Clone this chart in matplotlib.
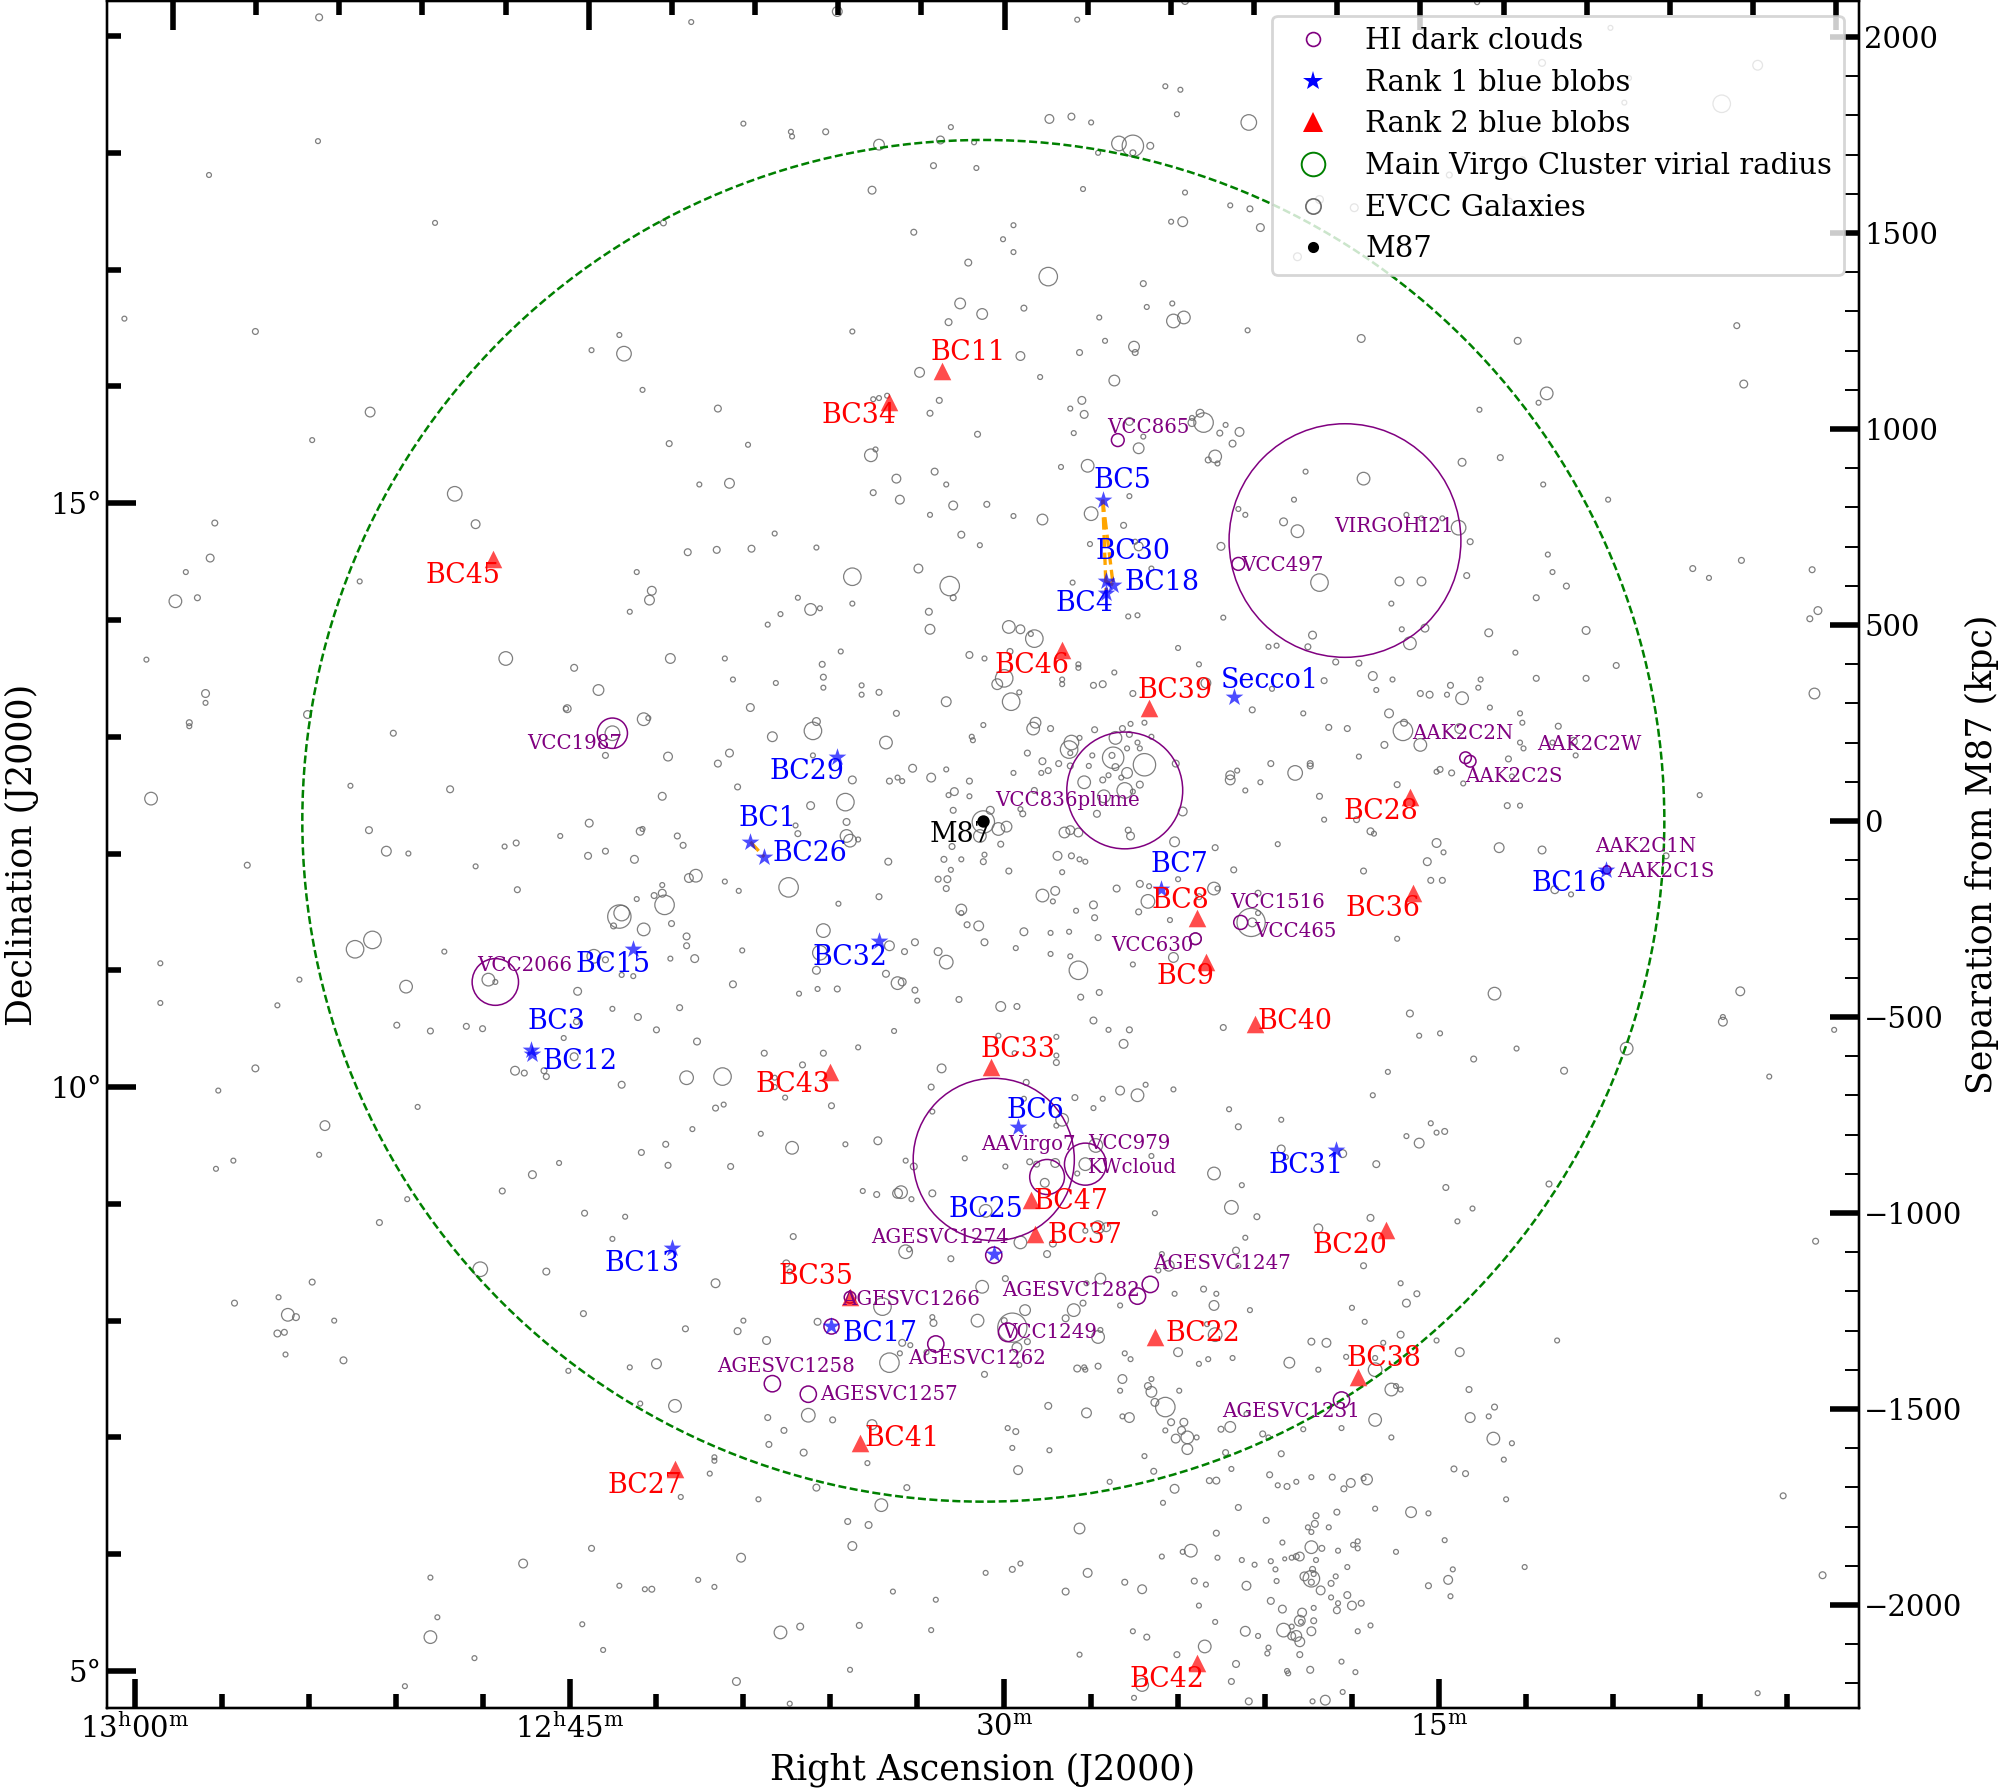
#!/usr/bin/env python3
import numpy as np
import matplotlib
matplotlib.use('Agg')
import matplotlib.pyplot as plt
from matplotlib.lines import Line2D
from matplotlib.patches import Ellipse

plt.rcParams['font.family'] = ['DejaVu Serif']
plt.rcParams['mathtext.fontset'] = 'dejavuserif'
plt.rcParams['mathtext.default'] = 'regular'

#EVCC galaxies by sky region: RA (deg), Dec (deg), apparent size (arcmin)
evcc_nw = [(193.41,19.16,3.5),(190.2,19.12,2.5),(193.42,18.10,2.5),(194.36,17.81,2.5),(192.41,17.40,2.5),(190.44,17.40,3),
    (195.09,16.58,2.5),(193.96,16.47,3),(190.82,16.44,2.5),(191.06,16.31,2.5),(190.78,16.28,7.5),(190.62,15.97,2.5),
    (192.97,15.78,5),(193.47,15.54,2.5),(190.39,15.51,3),(192.24,15.08,7.5),(192.06,14.82,4.5),(190.13,15.16,2.5),
    (194.31,14.83,3),(194.35,14.53,4),(194.56,14.41,2.5),(193.06,14.33,2.5),(190.23,14.58,3.5),(190.67,14.41,2.5),
    (190.54,14.25,4.5),(190.56,14.17,5),(194.65,14.16,6.5),(194.46,14.19,3)]

evcc_n = [(188.94,19.21,5),(186.87,19.14,2.5),(185.94,19.30,3.5),(186.11,18.57,2.5),(185.98,18.54,2.5),(186.01,18.33,2.5),
    (189.75,18.25,2.5),(189.34,18.18,2.5),(189.33,18.14,2.5),(189.04,18.18,3),(187.96,18.22,2.5),(187.11,18.29,4.5),
    (186.92,18.31,3.5),(186.75,18.26,2.5),(185.39,18.26,8),(188.58,18.07,5.5),(188.05,18.11,4),(187.76,18.09,2.5),
    (186.51,18.08,7.5),(186.39,18.06,11),(186.39,18.0,3),(186.24,18.06,3.5),(186.69,18.0,2.5),(188.11,17.89,3),
    (187.74,17.87,2.5),(188.64,17.68,4),(186.82,17.69,2.5),(185.94,17.66,2.5),(185.55,17.55,2.5),(185.38,17.52,3),
    (186.06,17.41,2.5),(185.96,17.41,5),(185.29,17.36,4),(187.42,17.38,2.5),(187.51,17.26,2.5),(187.42,17.15,2.5),
    (188.28,17.32,3),(187.81,17.06,3.5),(187.12,16.94,9.5),(186.3,16.88,3),(186.27,16.68,2.5),(186.05,16.71,2.5),
    (187.88,16.71,5.5),(187.69,16.62,5.5),(187.98,16.55,3.5),(187.33,16.67,3),(186.68,16.59,2.5),(186.04,16.56,7),
    (185.95,16.59,6.5),(185.4,16.48,2.5),(188.81,16.47,2.5),(186.63,16.39,2.5),(186.38,16.34,5.5),(186.37,16.29,3),
    (186.85,16.29,3),(187.36,16.26,4.5),(187.19,16.08,2.5),(186.55,16.05,5.5),(188.23,16.12,5),(188.63,15.89,2.5),
    (188.58,15.90,2.5),(188.51,15.92,2.5),(186.83,15.88,4),(188.06,15.88,3),(188.14,15.77,3),(186.93,15.81,2.5),
    (186.81,15.76,4),(189.97,15.81,3.5),(186.42,15.70,4),(185.88,15.73,2.5),(185.88,15.69,4),(185.81,15.77,4),
    (185.78,15.69,10),(185.59,15.67,2.5),(185.64,15.60,3),(185.47,15.61,4.5),(185.53,15.51,3.5),(186.9,15.60,2.5),
    (186.3,15.57,2.5),(187.73,15.59,3),(189.71,15.50,2.5),(188.61,15.46,2.5),(188.65,15.41,6.5),(186.34,15.47,5.5),
    (185.68,15.40,6.5),(185.74,15.37,3),(185.66,15.34,2.5),(187.01,15.31,2.5),(186.78,15.32,6.5),(188.1,15.27,3.5),
    (188.43,15.21,4.5),(188.0,15.16,2.5),(189.87,15.17,5),(188.63,15.09,3),(188.40,15.03,4.5),(187.94,14.98,4.5),
    (187.65,14.99,3),(186.42,15.06,2.5),(187.42,14.89,2.5),(187.17,14.86,5.5),(186.75,14.91,7),(186.47,14.81,3),
    (188.14,14.90,2.5),(185.48,14.95,2.5),(185.42,14.90,2.5),(185.0,15.03,2.5),(185.09,14.84,4),(184.97,14.76,6.5),
    (187.87,14.73,3.5),(187.71,14.64,2.5),(189.48,14.74,2.5),(189.98,14.60,3.5),(189.68,14.61,3.5),(189.12,14.62,2.5),
    (186.76,14.65,2.5),(186.37,14.67,2.5),(186.34,14.63,4.5),(185.63,14.63,4),(186.23,14.44,2.5),(188.81,14.37,9),
    (188.24,14.44,4.5),(187.97,14.29,10),(189.28,14.19,2.5),(186.91,14.32,2.5),(187.94,14.19,3)]

evcc_ne = [(183.42,19.29,2.5),(182.27,19.07,2.5),(182.86,18.77,3.5),(181.0,18.75,5),(182.11,18.64,2.5),(182.15,18.43,2.5),
    (181.31,18.42,9),(183.66,17.81,3),(183.03,17.94,3),(183.85,17.62,2.5),(184.78,17.60,4),(184.48,17.53,4),
    (183.14,17.59,2.5),(184.97,17.11,4),(184.42,16.41,4),(183.07,16.39,3.5),(181.18,16.52,3),(181.12,16.02,4),
    (182.82,15.94,6.5),(182.89,15.86,2.5),(183.40,15.80,2.5),(183.55,15.35,4),(183.22,15.39,3),(184.90,15.27,2.5),
    (184.40,15.21,6.5),(182.85,15.16,2.5),(182.29,15.03,2.5),(182.81,14.56,2.5),(182.77,14.41,2.5),(182.65,14.29,3),
    (182.91,14.19,3),(181.14,14.51,3),(181.56,14.44,3),(181.42,14.36,2.5),(180.53,14.43,3),(180.48,14.08,4),
    (180.55,14.01,3),(182.48,13.91,4),(183.09,13.72,2.5),(182.91,13.50,3),(182.48,13.50,3),(182.22,13.61,3),
    (180.51,13.37,5.5),(182.72,13.09,3),(183.05,13.20,2.5),(183.03,13.12,2.5),(182.77,12.95,2.5),(182.59,12.96,4),
    (183.05,12.95,2.5),(183.02,12.90,2.5),(182.57,12.84,2.5),(183.15,12.81,3),(183.12,12.66,2.5),(181.5,12.50,2.5),
    (183.05,12.41,2.5),(183.16,12.41,3),(182.86,12.03,4),(181.79,11.98,3),(182.75,11.69,4),(182.61,11.65,2.5),
    (181.15,10.82,4.5),(181.3,10.56,4.5),(181.3,10.6,2.5),(180.34,10.49,2.5),(183.08,10.33,2.5),(182.13,10.33,6.5),
    (182.67,10.14,3.5),(180.9,10.09,2.5),(183.48,14.67,3),(183.51,14.38,3),(183.9,14.33,4.5),(183.58,14.79,7.5),
    (184.03,14.90,2.5),(183.9,14.87,2.5),(183.72,14.87,2.5),(184.09,14.33,4.5),(184.78,14.32,9)]

evcc_w = [(194.90,13.66,2.5),(191.80,13.67,7),(191.21,13.59,3.5),(190.38,13.67,5),(189.91,13.67,2.5),(190.73,14.07,2.5),
    (189.54,13.96,2.5),(189.17,14.09,6),(189.09,14.10,2.5),(189.43,14.05,2.5),(188.81,14.14,2.5),(188.91,13.73,2.5),
    (189.07,13.62,3),(189.06,13.51,3),(189.06,13.42,2.5),(189.84,13.49,2.5),(189.47,13.46,2.5),(188.73,13.44,2.5),
    (188.73,13.36,2.5),(188.58,13.38,3),(194.39,13.37,4),(194.39,13.29,2.5),(191.0,13.40,5.5),(189.69,13.25,4),
    (191.27,13.24,4),(191.28,13.24,2.5),(190.61,13.15,6.5),(190.57,13.16,2.5),(189.12,13.13,4),(189.15,13.05,9),
    (188.43,13.20,3),(193.51,13.19,4),(194.53,13.12,3),(194.53,13.09,2.5),(190.88,13.03,7.5),(192.77,13.03,3),
    (189.50,13.0,5),(188.52,12.95,6.5),(190.94,12.84,3),(190.40,12.83,4.5),(189.87,12.86,4),(189.97,12.77,3.5),
    (189.15,12.84,2.5),(188.81,12.63,4),(188.49,12.62,3),(188.42,12.65,2.5),(193.14,12.58,2.5),(189.80,12.57,3),
    (192.28,12.55,3.5),(190.45,12.49,4),(194.86,12.47,6.5),(189.17,12.41,4),(188.87,12.44,9),(188.86,12.27,3.5),
    (189.3,12.24,2.5),(192.98,12.20,3.5),(191.08,12.26,4),(190.64,12.19,4),(190.62,12.21,2.5),(189.28,12.17,3),
    (191.33,12.15,2.5),(190.32,12.15,3),(190.27,12.07,3),(188.86,12.15,6.5),(188.83,12.11,6.5),(188.76,12.12,2.5),
    (191.71,12.09,3),(191.81,12.06,2.5),(190.94,12.02,3),(192.83,12.02,5),(192.64,12.0,2.5),(191.09,11.98,3.5),
    (190.69,11.95,4),(194.03,11.90,3),(192.06,11.89,2.5),(188.5,11.93,3.5),(190.16,11.81,6.5),(190.22,11.79,4.5),
    (189.91,11.76,2.5),(190.45,11.73,2.5),(189.36,11.71,10),(189.79,11.68,2.5),(191.70,11.69,3),(190.45,11.66,4),
    (190.52,11.64,3),(190.67,11.61,2.5),(188.58,11.63,3),(188.93,11.57,2.5),(190.43,11.56,10),(190.82,11.46,12),
    (190.80,11.49,8),(190.61,11.35,6.5),(190.87,11.38,3),(190.37,11.40,3),(190.24,11.29,3.5),(190.24,11.21,3),
    (189.06,11.34,7),(192.95,11.26,9),(193.10,11.18,9),(188.49,11.21,5),(189.09,11.15,7.5),(192.33,11.16,2.5),
    (194.78,11.06,2.5),(189.76,11.17,2.5),(191.04,11.12,7),(190.38,11.10,2.5),(190.17,11.10,4),(190.94,11.09,3),
    (189.12,11.0,4),(193.58,10.92,2.5),(192.66,10.86,6.5),(191.95,10.92,6.5),(191.89,10.90,2.5),(190.80,10.96,2.5),
    (190.70,10.95,2.5),(189.84,10.88,3.5),(188.52,10.97,3.5),(188.42,10.89,6.5),(191.18,10.82,4),(189.27,10.80,2.5),
    (189.11,10.84,2.5),(188.94,10.84,3),(194.78,10.72,2.5),(193.77,10.70,2.5),(190.30,10.68,3),(190.88,10.67,2.5),
    (190.66,10.60,3.5),(191.19,10.56,3),(192.74,10.53,3),(192.45,10.48,3),(192.14,10.52,3),(192.0,10.50,3),
    (190.50,10.49,3),(188.45,10.48,2.5),(191.30,10.42,2.5),(190.15,10.39,3.5),(189.57,10.29,3),(189.06,10.29,3),
    (188.76,10.34,2.5),(189.24,10.19,3),(191.21,10.26,4),(190.24,10.08,7),(189.93,10.09,9),(191.72,10.14,4.5),
    (191.64,10.12,3),(191.47,10.14,3),(191.45,10.09,3),(193.96,10.16,3.5),(194.28,9.97,2.5),(190.80,10.02,3.5),
    (189.48,10.08,2.5),(189.48,10.0,2.5),(189.39,9.91,2.5)]

evcc_center = [(188.15,14.07,3.5),(188.14,13.92,5),(187.46,13.94,6.5),(187.36,13.92,4.5),(187.27,13.88,2.5),(187.24,13.84,9),
    (186.43,14.03,2.5),(186.35,14.04,2.5),(185.61,14.02,2.5),(184.16,14.14,2.5),(184.07,13.92,2.5),(183.87,13.93,4),
    (184.0,13.80,6.5),(183.32,13.89,4),(184.84,13.87,4),(186.0,13.76,2.5),(185.22,13.77,2.5),(185.15,13.78,2.5),
    (184.88,13.77,3),(187.8,13.70,3.5),(187.67,13.67,2.5),(187.45,13.73,3),(185.82,13.62,2.5),(184.64,13.64,3),
    (184.44,13.63,3),(186.86,13.62,2.5),(186.86,13.59,2.5),(186.55,13.55,2.5),(187.5,13.50,9),(187.56,13.45,5.5),
    (187.0,13.49,2.5),(187.0,13.45,2.5),(186.73,13.44,3),(186.65,13.45,3.5),(187.37,13.38,2.5),(187.44,13.30,9),
    (188.0,13.30,5),(186.39,13.37,3),(185.76,13.46,5),(185.19,13.41,2.5),(184.74,13.48,3),(184.32,13.52,4.5),
    (184.15,13.49,2.5),(184.29,13.40,2.5),(183.91,13.37,3),(183.83,13.36,3.5),(183.68,13.36,2.5),(183.65,13.44,3),
    (183.41,13.42,2.5),(183.39,13.49,2.5),(183.55,13.33,6.5),(185.36,13.23,3),(184.92,13.20,2.5),(183.31,13.25,2.5),
    (184.18,13.20,4.5),(187.23,13.12,5.5),(187.25,13.07,6.5),(187.68,13.10,2.5),(187.1,13.07,3),(186.72,13.06,3),
    (186.48,13.07,3),(186.41,13.11,2.5),(186.29,13.12,2.5),(184.7,13.08,3),(184.54,13.07,3),(184.05,13.12,3.5),
    (184.06,13.05,10),(184.22,12.93,3.5),(183.91,12.93,6.5),(183.57,13.07,5),(187.78,13.0,2.5),(187.77,12.97,2.5),
    (186.92,12.95,7.5),(186.94,12.89,9),(186.93,12.86,2.5),(186.85,12.99,2.5),(186.54,12.99,6.5),(186.42,13.02,3),
    (186.23,13.0,2.5),(186.35,12.95,2.5),(186.33,12.90,2.5),(186.44,12.90,2.5),(186.56,12.82,11),(186.57,12.84,3),
    (186.74,12.84,2.5),(187.3,12.86,3),(184.44,12.83,2.5),(188.29,12.73,4),(187.17,12.79,3.5),(187.03,12.77,3),
    (186.93,12.75,3),(186.29,12.76,11.5),(186.77,12.75,2.5),(186.02,12.77,3.5),(185.2,12.77,3),(184.86,12.77,3),
    (184.86,12.75,3),(188.0,12.72,2.5),(186.54,12.74,3.5),(186.44,12.69,5.5),(188.13,12.65,4.5),(187.42,12.69,2.5),
    (187.18,12.69,2.5),(187.12,12.71,3),(185.49,12.71,2.5),(185.55,12.67,4.5),(185.55,12.63,5),(184.99,12.69,7.5),
    (183.77,12.70,2.5),(183.74,12.72,3),(183.64,12.69,3),(186.81,12.61,6.5),(186.6,12.67,2.5),(186.65,12.63,3),
    (186.49,12.65,2.5),(186.33,12.59,3.5),(187.8,12.62,3),(188.38,12.62,2.5),(185.29,12.61,2.5),(186.46,12.54,8),
    (185.42,12.54,2.5),(184.11,12.59,3),(183.54,12.60,2.5),(187.93,12.53,4),(187.98,12.50,2.5),(187.8,12.49,2.5),
    (187.24,12.54,3),(186.39,12.53,2.5),(186.64,12.49,6.5),(184.78,12.49,3),(187.62,12.37,4),(187.36,12.38,2.5),
    (187.94,12.37,3),(187.34,12.34,3),(185.96,12.36,4.5),(186.70,12.34,3.5),(187.68,12.27,11.5),(184.74,12.29,2.5),
    (184.46,12.29,3),(187.48,12.23,5.5),(187.55,12.21,6.5),(186.98,12.18,5.5),(186.93,12.20,4.5),(186.86,12.18,4.5),
    (187.71,12.15,6.5),(186.43,12.20,3),(186.41,12.15,4),(184.34,12.19,3.5),(184.31,12.17,2.5),(187.95,12.06,3),
    (187.53,12.08,3),(186.03,12.10,5),(185.68,12.05,3),(185.14,12.08,2.5),(183.77,12.09,4.5),(183.71,12.01,2.5),
    (183.23,12.05,5),(187.04,11.98,4.5),(186.92,11.98,3),(186.85,11.95,2.5),(186.8,11.93,2.5),(188.02,11.95,3),
    (187.87,11.95,2.5),(187.67,11.99,2.5),(187.68,11.93,3),(187.96,11.86,2.5),(187.46,11.85,3),(187.0,11.84,2.5),
    (183.85,11.93,4),(185.52,11.86,3),(184.4,11.85,3),(188.07,11.78,3),(187.99,11.78,3.5),(188.0,11.70,3),
    (186.0,11.78,2.5),(183.82,11.77,3),(183.72,11.77,3),(186.33,11.74,3.5),(186.25,11.72,2.5),(186.53,11.70,3.5),
    (185.69,11.70,6.5),(185.66,11.70,2.5),(187.06,11.68,4.5),(187.17,11.64,6.5),(187.08,11.59,2.5),(185.82,11.63,3),
    (186.26,11.59,7),(186.88,11.51,2.5),(186.73,11.56,4),(187.87,11.52,5.5),(187.87,11.49,2.5),(186.34,11.50,3),
    (185.31,11.66,3),(185.31,11.49,2.5),(186.72,11.45,3),(186.07,11.43,2.5),(185.37,11.41,14.5),(185.36,11.41,4.5),
    (187.82,11.39,3),(187.72,11.38,5),(187.33,11.33,4),(187.1,11.32,2.5),(186.94,11.33,2.5),(187.67,11.24,3.5),
    (186.69,11.28,3),(185.85,11.27,6),(184.11,11.27,2.5),(187.4,11.19,2.5),(188.27,11.24,3.5),(188.36,11.16,3),
    (188.07,11.16,4),(188.0,11.07,7),(187.1,11.14,2.5),(186.93,11.12,2.5),(186.04,11.11,5),(186.86,11.0,9.5),
    (186.39,11.05,2.5),(188.38,10.9,4),(188.27,10.83,3),(188.25,10.74,2.5),(187.89,10.75,3),(186.68,10.81,3),
    (186.84,10.77,3),(183.27,10.80,6.5),(187.53,10.69,5),(187.39,10.69,3),(186.73,10.57,3.5),(184.0,10.63,3.5),
    (186.42,10.49,3),(186.6,10.49,2.5),(185.61,10.51,3),(183.92,10.44,2.5),(183.74,10.46,2.5),(187.55,10.44,2.5),
    (187.05,10.43,2.5),(187.41,10.29,2.5),(187.05,10.27,2.5),(186.47,10.37,4.5),(187.05,10.21,3),(188.04,10.16,4.5),
    (183.45,10.24,3),(184.19,10.13,2.5),(188.13,10.0,3),(187.31,10.04,3),(186.5,9.97,4.5),(186.35,9.93,6.5),
    (186.28,10.02,2.5),(186.04,9.98,2.5),(184.32,9.93,2.5),(186.89,9.91,3)]

evcc_sw = [(193.36,9.67,5),(193.41,9.42,2.5),(192.56,9.83,2.5),(194.15,9.37,2.5),(194.3,9.30,2.5),(189.99,9.82,3),
    (189.92,9.85,2.5),(188.99,9.84,3),(190.19,9.64,2.5),(190.63,9.44,3),(190.42,9.51,3),(189.6,9.60,2.5),
    (188.87,9.51,2.5),(188.59,9.54,4),(189.33,9.48,6.5),(190.4,9.33,3),(189.86,9.32,3),(191.34,9.35,2.5),
    (191.57,9.25,4),(191.83,9.11,3),(192.65,9.04,2.5),(188.72,9.11,2.5),(188.6,9.08,3),(188.42,9.09,5),
    (192.89,8.84,3),(191.12,8.92,3),(190.77,8.89,2.5),(190.88,8.70,2.5),(189.32,8.72,3),(191.45,8.42,3.5),
    (192.02,8.44,7.5),(189.38,8.49,3.5),(189.35,8.42,2.5),(189.99,8.32,4.5),(193.47,8.33,3),(193.76,8.20,2.5),
    (194.14,8.15,3),(188.55,8.12,9),(191.13,8.06,3),(193.68,8.05,6.5),(193.61,8.03,3.5),(193.28,8.0,2.5),
    (189.75,8.0,2.5),(189.11,7.99,3.5),(190.25,7.93,3),(189.8,7.91,3.5),(193.77,7.89,3.5),(193.71,7.90,3),
    (189.55,7.83,4),(193.7,7.71,2.5),(193.2,7.66,3.5),(190.73,7.6,2.5),(190.5,7.63,5),(188.49,7.64,10),
    (191.26,7.57,2.5),(190.64,7.29,2.5),(190.34,7.27,6.5),(189.19,7.19,7),(189.54,7.17,3),(188.98,7.15,3),
    (188.64,7.11,5),(189.4,7.06,3),(189.53,6.94,3),(189.23,6.87,3.5),(190.0,6.83,2.5),(190.0,6.80,2.5),
    (188.68,6.78,2.5),(190.04,6.69,2.5),(189.12,6.57,3.5),(190.29,6.49,2.5),(189.62,6.47,2.5),(191.06,6.05,3),
    (191.65,5.92,4.5),(189.77,5.97,4.5),(192.45,5.80,2.5),(190.82,5.73,2.5),(190.6,5.70,2.5),(190.54,5.70,3),
    (190.14,5.78,2.5),(190.0,5.72,2.5),(192.39,5.46,2.5),(191.14,5.40,2.5),(192.45,5.29,6.5),(189.43,5.33,6.5),
    (189.26,5.38,3.5),(192.07,5.11,2.5),(190.96,5.18,2.5),(192.67,4.87,2.5),(189.81,4.91,4),(189.35,4.72,2.5),
    (188.34,6.57,3),(188.56,6.42,6.5),(188.85,6.28,3),(188.67,6.25,3.5),(188.81,6.07,4.5),(187.66,5.84,2.5),
    (187.43,5.87,3),(188.46,5.68,2.5),(188.09,5.61,2.5),(188.75,5.39,3),(188.13,5.35,2.5),(188.83,5.01,2.5)]

evcc_s = [(188.12,9.79,2.5),(187.33,9.9,2.5),(186.65,9.9,2.5),(186.73,9.82,2.5),(187.0,9.72,6.5),(187.05,9.67,2.5),
    (185.56,9.81,2.5),(185.48,9.66,3),(185.11,9.72,2.5),(183.82,9.69,2.5),(183.77,9.61,2.5),(183.7,9.62,3),
    (184.03,9.58,2.5),(183.92,9.52,5),(188.35,9.37,2.5),(188.28,9.32,3.5),(187.84,9.39,2.5),(187.49,9.32,2.5),
    (187.28,9.36,3),(187.22,9.34,3),(187.06,9.35,4.5),(186.71,9.50,7),(186.8,9.34,6.5),(187.15,9.18,4.5),
    (186.87,9.26,2.5),(186.23,9.41,2.5),(185.69,9.26,6.5),(185.45,9.16,2.5),(185.11,9.47,4),(185.07,9.4,2.5),
    (184.58,9.43,4),(184.29,9.34,3.5),(183.69,9.14,3),(183.46,8.96,2.5),(183.59,8.85,2.5),(188.39,9.10,6.5),
    (188.3,9.04,2.5),(188.12,9.09,3.5),(187.66,8.94,6.5),(186.2,8.92,2.5),(185.54,8.97,7),(185.32,8.89,3),
    (184.34,8.88,3.5),(184.79,8.79,4.5),(185.42,8.71,2.5),(186.8,8.77,2.5),(186.69,8.80,6.5),(186.62,8.80,4.5),
    (185.5,8.60,3.5),(187.36,8.67,6.5),(187.08,8.66,3.5),(187.13,8.57,3.5),(188.35,8.59,7),(188.32,8.61,2.5),
    (187.96,8.53,3),(186.14,8.57,2.5),(186.08,8.47,5.5),(186.17,8.43,2.5),(185.48,8.47,2.5),(184.4,8.47,3),
    (186.67,8.36,5.5),(186.79,8.32,2.5),(187.49,8.36,3),(187.69,8.29,6.5),(184.08,8.32,2.5),(183.94,8.23,3),
    (186.03,8.23,2.5),(185.78,8.27,3),(185.67,8.23,2.5),(185.69,8.13,5),(185.38,8.09,2.5),(184.03,8.15,4),
    (184.5,8.11,2.5),(186.5,8.13,2.5),(186.82,8.15,3),(186.9,8.09,6.5),(187.32,8.09,5.5),(186.97,8.02,3.5),
    (188.12,8.03,2.5),(188.11,7.98,3.5),(187.73,8.0,6.5),(187.5,8.0,3),(187.43,7.94,15),(186.69,7.86,6.5),
    (186.67,7.92,2.5),(185.75,7.97,2.5),(185.68,7.88,7),(184.39,7.99,2.5),(184.08,7.88,3.5),(188.38,7.81,3.5),
    (188.31,7.79,2.5),(187.3,7.82,3),(187.39,7.77,5),(184.85,7.82,3.5),(184.72,7.81,4.5),(184.23,7.81,2.5),
    (183.77,7.83,2.5),(188.4,7.72,2.5),(188.17,7.73,2.5),(186.0,7.73,4.5),(186.46,7.72,2.5),(183.57,7.73,4.5),
    (186.41,7.67,2.5),(185.74,7.67,2.5),(185.53,7.68,2.5),(184.55,7.69,2.5),(184.3,7.68,2.5),(185.82,7.63,2.5),
    (185.04,7.64,5.5),(186.87,7.59,3.5),(186.81,7.6,2.5),(186.8,7.58,2.5),(186.69,7.61,3),(187.37,7.62,2.5),
    (187.67,7.54,3),(184.79,7.58,2.5),(184.3,7.58,7),(186.48,7.50,4.5),(186.23,7.5,2.5),(186.26,7.44,3.5),
    (186.23,7.39,5.5),(186.5,7.40,2.5),(185.99,7.40,2.5),(184.16,7.41,6.5),(184.08,7.41,2.5),(184.12,7.44,2.5),
    (183.49,7.41,3),(183.32,7.18,2.5),(183.27,7.26,3),(186.2,7.3,4),(186.11,7.26,10),(187.12,7.27,3.5),
    (186.79,7.21,5),(186.48,7.18,2.5),(186.42,7.17,5),(185.41,7.2,2.5),(184.3,7.15,6.5),(183.48,7.17,5),
    (187.47,7.08,2.5),(187.4,7.05,3),(186.06,7.13,3.5),(185.95,7.13,4),(185.97,7.06,4),(185.63,7.07,3),
    (185.55,7.09,5.5),(186.11,7.06,2.5),(185.92,7.0,6.5),(186.02,6.99,4.5),(185.84,7.0,2.5),(184.92,7.07,2.5),
    (184.59,7.08,2.5),(184.16,7.0,2.5),(183.28,6.99,6.5),(185.27,7.03,3),(185.22,7.0,2.5),(187.43,6.91,2.5),
    (187.38,6.72,4.5)]

evcc_se = [(187.11,6.89,2.5),(185.92,6.90,5.5),(186.29,6.84,2.5),(185.59,6.87,3),(185.11,6.86,3),(186.21,6.71,3),
    (185.54,6.73,2.5),(185.21,6.68,3),(183.62,6.73,3),(183.52,6.69,3),(184.67,6.66,3),(184.85,6.66,2.5),
    (184.37,6.64,5.5),(184.4,6.65,2.5),(184.51,6.61,4.5),(184.57,6.56,3),(184.98,6.62,2.5),(185.06,6.58,3),
    (185.14,6.59,2.5),(185.73,6.63,3),(185.67,6.63,3.5),(186.03,6.56,4.5),(186.59,6.62,2.5),(186.13,6.44,2.5),
    (185.48,6.40,3),(184.63,6.36,3),(184.3,6.39,2.5),(183.99,6.36,5.5),(183.84,6.35,2.5),(184.81,6.33,3),
    (185.24,6.29,3),(184.82,6.26,3.5),(184.88,6.23,2.5),(184.7,6.23,2.5),(184.85,6.19,2.5),(186.85,6.22,5.5),
    (185.67,6.18,3),(183.7,6.12,2.5),(185.1,6.1,2.5),(184.85,6.06,6.5),(184.76,6.05,3),(184.62,6.03,2.5),
    (184.49,6.08,2.5),(184.45,6.11,2.5),(184.45,6.05,2.5),(184.12,6.02,2.5),(185.89,6.03,6.5),(185.96,6.02,2.5),
    (186.14,5.98,2.5),(185.66,5.97,2.5),(185.45,5.95,2.5),(185.08,5.96,2),(185.02,5.97,2.5),(184.98,5.98,3),
    (184.95,5.98,4.5),(184.81,5.95,2.5),(185.2,5.94,2.5),(185.34,5.91,2.5),(187.36,5.92,2.5),(186.78,5.84,4.5),
    (184.54,5.89,2.5),(185.16,5.87,2.5),(184.84,5.87,3),(183.63,5.87,2.5),(183.67,5.78,4.5),(184.83,5.83,2.5),
    (184.64,5.81,2.5),(184.91,5.81,4.5),(184.85,5.79,8.5),(184.85,5.76,3),(186.46,5.76,3),(185.86,5.77,3),
    (185.76,5.74,2.5),(185.15,5.77,2.5),(184.68,5.75,3),(185.41,5.73,4.5),(186.31,5.70,4.5),(186.97,5.68,3.5),
    (184.77,5.69,4.5),(183.84,5.73,3),(183.65,5.64,2.5),(184.54,5.65,3.5),(184.68,5.63,2.5),(185.82,5.56,2.5),
    (185.2,5.60,3.5),(184.5,5.56,4.5),(184.42,5.58,3),(184.62,5.58,2.5),(184.63,5.52,3.5),(184.83,5.54,2.5),
    (185.1,5.53,4),(184.93,5.50,4.5),(184.95,5.43,5.5),(184.94,5.42,2.5),(184.83,5.43,3),(185.68,5.42,2.5),
    (184.34,5.39,2.5),(184.45,5.34,2.5),(185.02,5.38,2.5),(185.09,5.35,7),(184.85,5.34,4.5),(185.42,5.34,5),
    (186.39,5.34,2.5),(186.27,5.29,3),(185.31,5.30,2.5),(184.98,5.30,5.5),(185.02,5.30,4),(184.95,5.25,5),
    (185.77,5.21,6.5),(186.85,5.14,2.5),(186.01,5.14,3),(185.22,5.2,2.5),(185.23,5.15,2.5),(184.95,5.14,3),
    (184.59,5.08,2.5),(185.5,5.06,3.5),(184.86,5.01,3.5),(185.06,5.0,2.5),(185.05,4.98,2.5),(184.47,4.99,2.5),
    (186.31,4.88,6.5),(185.54,4.91,3),(184.58,4.82,2.5),(186.38,4.77,2.5),(185.39,4.74,3.5),(184.84,4.74,2.5),
    (184.73,4.75,5),(182.8,9.17,3),(180.5,8.68,3),(182.73,7.83,2.5),(183.12,6.95,2.5),(183.19,6.81,2.5),
    (183.17,6.47,2.5),(183.01,5.89,2.5),(180.78,6.50,3),(180.44,5.82,3.5),(181.0,4.81,2.5)]

#Rank 1 blue blobs
r1_ra = [186.65,186.62,186.56,186.62,189.69,189.57,188.94,188.58,190.70,191.58,191.57,186.15,185.52,182.31,187.38,187.59,184.64,188.99,190.37]
r1_dec = [15.03,14.33,14.30,14.23,12.10,11.97,12.83,11.25,11.18,10.32,10.28,11.70,13.34,11.86,9.66,8.57,9.46,7.95,8.62]
r1_names = ['BC5','BC30','BC18','BC4','BC1','BC26','BC29','BC32','BC15','BC3','BC12','BC7','Secco1','BC16','BC6','BC25','BC31','BC17','BC13']
r1_label_ra = [186.48,186.39,186.14,186.81,189.54,189.18,189.2,188.83,190.87,191.36,191.16,185.99,185.21,182.63,187.23,187.66,184.9,188.57,190.62]
r1_label_dec = [15.19,14.59,14.32,14.14,12.30,12.0,12.70,11.11,11.05,10.56,10.22,11.91,13.485,11.74,9.80,8.95,9.33,7.89,8.49]

#Rank 2 blue blobs
r2_ra = [191.91,188.04,188.49,187.0,186.25,184.0,183.97,185.84,185.76,185.34,187.61,189.0,187.27,187.23,184.21,186.2,184.45,188.83,188.74,190.34,185.84]
r2_dec = [14.52,16.13,15.87,13.74,13.25,12.48,11.66,11.45,11.07,10.54,10.17,10.13,9.03,8.74,8.78,7.86,7.52,8.2,6.95,6.73,5.07]
r2_names = ['BC45','BC11','BC34','BC46','BC39','BC28','BC36','BC8','BC9','BC40','BC33','BC43','BC47','BC37','BC20','BC22','BC38','BC35','BC41','BC27','BC42']
r2_label_ra = [192.17,187.81,188.75,187.26,186.03,184.25,184.23,185.98,185.94,184.99,187.38,189.32,186.92,186.8,184.52,185.79,184.22,189.12,188.38,190.6,186.1]
r2_label_dec = [14.38,16.29,15.75,13.61,13.40,12.36,11.53,11.60,10.95,10.56,10.32,10.02,9.02,8.73,8.64,7.89,7.68,8.38,6.99,6.59,4.93]

#Blobs joined by the orange dashes
link_ra = [[186.65,186.62],[186.65,186.56],[186.62,186.56],[189.69,189.57]]
link_dec = [[15.03,14.23],[15.03,14.30],[14.33,14.30],[12.10,11.97]]

#HI dark clouds: centre and diameter in degrees
hi_ra = [186.52,184.56,185.48,190.88,186.46,183.52,183.48,182.3,185.46,185.85,191.89,187.59,187.13,186.8,187.59,186.24,186.35,188.83,187.47,188.09,189.5,189.19,188.99,184.59]
hi_dec = [15.54,14.68,14.48,13.03,12.54,12.82,12.79,11.86,11.41,11.27,10.90,9.38,9.23,9.34,8.56,8.31,8.21,8.2,7.90,7.80,7.46,7.37,7.95,7.32]
hi_diam = [0.11,2.0,0.11,0.26,1.0,0.10,0.10,0.07,0.12,0.10,0.40,1.39,0.30,0.36,0.14,0.14,0.14,0.10,0.16,0.14,0.14,0.14,0.13,0.14]

hi_names = ['VCC865','VIRGOHI21','VCC497','VCC1987','VCC836plume','AAK2C2N','AAK2C2W','AAK2C2S','AAK2C1N','AAK2C1S','VCC1516','VCC465','VCC630','VCC2066',
    'AAVirgo7','VCC979','KWcloud','AGESVC1274','AGESVC1247','AGESVC1282','AGESVC1266','VCC1249','AGESVC1262','AGESVC1258','AGESVC1257','AGESVC1231']
hi_label_ra = [186.26,184.14,185.1,191.21,186.95,183.54,182.45,183.1,181.97,181.79,185.14,184.99,186.22,191.64,187.29,186.42,186.39,188.05,185.62,186.92,188.3,187.11,187.73,189.38,188.49,185.03]
hi_label_dec = [15.65,14.80,14.47,12.94,12.45,13.03,12.93,12.66,12.06,11.85,11.58,11.33,11.21,11.04,9.51,9.52,9.31,8.71,8.49,8.26,8.18,7.90,7.68,7.61,7.37,7.22]

#M87 and the cluster virial radius
m87_ra, m87_dec = 187.68, 12.28
virial_ra_diam, virial_dec_diam = 11.75, 11.66

#Axis ticks
ra_major_hours = [195.0, 191.25, 187.5, 183.75]
ra_labels = [r'$13^{h}00^{m}$', r'$12^{h}45^{m}$', r'$30^{m}$', r'$15^{m}$']
dec_major = [5, 10, 15]
dec_minor = [6, 7, 8, 9, 11, 12, 13, 14, 16, 17, 18, 19]
sep_major = [-2000, -1500, -1000, -500, 0, 500, 1000, 1500, 2000]

fig = plt.figure(figsize=(10, 8.96), dpi=200)
ax = fig.add_axes([107/2000, 1-1708/1792, (1858.5-107)/2000, 1707/1792])
ax.set_xlim(195.24, 180.13)
ax.set_ylim(4.683, 19.30)

#Galaxies
evcc = np.array(evcc_nw + evcc_n + evcc_ne + evcc_w + evcc_center + evcc_sw + evcc_s + evcc_se)
ax.scatter(evcc[:, 0], evcc[:, 1], s=(0.7*evcc[:, 2])**2, facecolors='none', edgecolors='dimgray', linewidths=0.45, alpha=0.85, zorder=2)

#Virial radius
ax.add_patch(Ellipse((m87_ra, m87_dec), virial_ra_diam, virial_dec_diam, fill=False, edgecolor='green', linestyle=(0, (3.2, 1.4)), linewidth=0.9, zorder=3))

#HI clouds
for r, d, w in zip(hi_ra, hi_dec, hi_diam):
    ax.add_patch(Ellipse((r, d), w, w, fill=False, edgecolor='purple', linewidth=0.55, zorder=3))

#Blobs
for r, d in zip(link_ra, link_dec):
    ax.plot(r, d, color='orange', linestyle='--', linewidth=1.2, zorder=3)
ax.scatter(r1_ra, r1_dec, marker='*', s=45, color='blue', alpha=0.7, linewidths=0, zorder=4)
ax.scatter(r2_ra, r2_dec, marker='^', s=40, color='red', alpha=0.7, linewidths=0, zorder=4)
ax.scatter([m87_ra], [m87_dec], s=12, color='black', zorder=4)

#Labels
for n, r, d in zip(r1_names, r1_label_ra, r1_label_dec):
    ax.text(r, d, n, color='blue', fontsize=9.7, ha='center', va='center', zorder=5)
for n, r, d in zip(r2_names, r2_label_ra, r2_label_dec):
    ax.text(r, d, n, color='red', fontsize=9.7, ha='center', va='center', zorder=5)
for n, r, d in zip(hi_names, hi_label_ra, hi_label_dec):
    ax.text(r, d, n, color='purple', fontsize=7.1, ha='center', va='center', zorder=5)
ax.text(187.88, 12.16, 'M87', color='black', fontsize=9.7, ha='center', va='center', zorder=5)

#Bottom RA ticks and left/right Dec ticks
ax.set_xticks(ra_major_hours)
ax.set_xticklabels(ra_labels, fontsize=10.5)
ax.set_xticks([r - 0.75*k for r in ra_major_hours for k in range(1, 5) if r - 0.75*k > 180.13], minor=True)
ax.set_yticks(dec_major)
ax.set_yticklabels([str(v) + '\N{DEGREE SIGN}' for v in dec_major], fontsize=10.5)
ax.set_yticks(dec_minor, minor=True)
ax.tick_params(axis='both', which='major', direction='in', length=10.4, width=2, pad=2)
ax.tick_params(axis='both', which='minor', direction='in', length=5, width=2)
ax.tick_params(axis='y', which='both', left=True, right=True)
ax.tick_params(axis='x', which='both', bottom=True, top=False)
ax.set_xlabel('Right Ascension (J2000)', fontsize=12.5, labelpad=3)
ax.set_ylabel('Declination (J2000)', fontsize=12.5, labelpad=4)

#Separation axis
ax_sep = ax.twinx()
ax_sep.set_ylim(-2263, 2092)
ax_sep.set_yticks(sep_major)
ax_sep.set_yticks(np.arange(-2200, 2100, 100), minor=True)
ax_sep.tick_params(axis='y', which='major', direction='in', length=10.4, width=2, labelsize=10.5, pad=2)
ax_sep.tick_params(axis='y', which='minor', direction='in', length=5, width=0.7)
ax_sep.set_ylabel('Separation from M87 (kpc)', fontsize=12.5, labelpad=1)

#Top RA ticks, closer together because of the projection
ax_top = ax.twiny()
ax_top.set_xlim(195.595, 179.80)
ax_top.set_xticks([195.0, 191.25, 187.5, 183.75, 180.0])
ax_top.set_xticks([195 - 0.75*k for k in range(1, 20) if k % 5 != 0], minor=True)
ax_top.tick_params(axis='x', which='major', direction='in', length=10.4, width=2, labeltop=False)
ax_top.tick_params(axis='x', which='minor', direction='in', length=5, width=2)

#Legend
handles = [Line2D([], [], linestyle='None', marker='o', markerfacecolor='none', markeredgecolor='purple', markersize=5, markeredgewidth=0.6),
           Line2D([], [], linestyle='None', marker='*', color='blue', markersize=7.5, markeredgewidth=0),
           Line2D([], [], linestyle='None', marker='^', color='red', markersize=7.5, markeredgewidth=0),
           Line2D([], [], linestyle='None', marker='o', markerfacecolor='none', markeredgecolor='green', markersize=8.5, markeredgewidth=0.7),
           Line2D([], [], linestyle='None', marker='o', markerfacecolor='none', markeredgecolor='dimgray', markersize=5.5, markeredgewidth=0.6),
           Line2D([], [], linestyle='None', marker='o', color='black', markersize=3)]
labels = ['HI dark clouds', 'Rank 1 blue blobs', 'Rank 2 blue blobs', 'Main Virgo Cluster virial radius', 'EVCC Galaxies', 'M87']
leg = ax_top.legend(handles, labels, loc='upper right', fontsize=10.45, framealpha=0.8, borderaxespad=0, bbox_to_anchor=(0.9915, 0.9915), labelspacing=0.47)
leg.set_zorder(20)

fig.savefig('out.png', dpi=200)
